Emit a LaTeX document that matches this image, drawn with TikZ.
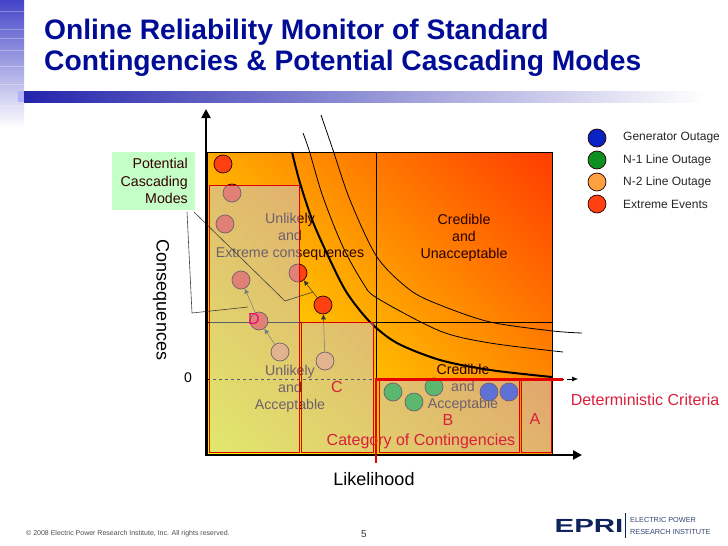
\documentclass[tikz,border=0pt]{standalone}
\usepackage{fontspec}
\setmainfont{Liberation Sans}
\usetikzlibrary{arrows.meta, positioning, calc}

\definecolor{titleblue}{HTML}{000C96}
\definecolor{barblue}{HTML}{2424AC}
\definecolor{columnblue}{HTML}{4444C8}
\definecolor{gentblue}{HTML}{0A22C4}
\definecolor{lineGreen}{HTML}{0E9020}
\definecolor{lineOrange}{HTML}{FFA040}
\definecolor{extremeRed}{HTML}{FF4010}
\definecolor{catRed}{HTML}{D8203C}
\definecolor{veilBlue}{HTML}{C0CBE8}
\definecolor{calloutGreen}{HTML}{C4FFC8}
\definecolor{eprinavy}{HTML}{10245C}
\definecolor{fieldYellow}{HTML}{FFFF00}
\definecolor{fieldOrange}{HTML}{FFA500}
\definecolor{fieldRed}{HTML}{FF4000}

\pgfdeclareverticalshading{fieldshade}{100bp}{color(0bp)=(fieldYellow); color(16bp)=(fieldYellow); color(50bp)=(fieldOrange); color(84bp)=(fieldRed); color(100bp)=(fieldRed)}

\tikzset{
	bubble/.style={circle, draw=black!85!red, line width=0.7pt, minimum size=18pt, inner sep=0pt},
	outage/.style={bubble, fill=extremeRed},
	zonetext/.style={font=\fontsize{14.2}{17}\selectfont, align=center, text=black!85!red, inner sep=0pt},
	legendtext/.style={font=\fontsize{12}{13}\selectfont, text=black!85, anchor=west, inner sep=0pt},
	redtext/.style={font=\fontsize{16}{18}\selectfont, text=catRed, inner sep=0pt},
	veil/.style={fill=veilBlue, fill opacity=0.47, draw=red!85!black, line width=0.7pt},
	step arrow/.style={-{Latex[length=5pt,width=5pt]}, draw=black!80, line width=0.5pt},
	callout/.style={draw=black!75, line width=0.6pt}
}

\begin{document}
\begin{tikzpicture}[x=1pt, y=-1pt]
	\useasboundingbox (0,0) rectangle (728,546);

	% Left column and title bar
	\shade[top color=columnblue, bottom color=white] (0,0) rectangle (24,128);
	\foreach \yy in {11,29,38,50,66,84,106}
		\draw[white, opacity=0.3, line width=0.5pt] (0,\yy) -- (24,\yy);
	\fill[blue!30!white] (18,91) rectangle (24,102);
	\shade[left color=barblue, right color=white] (24,91) rectangle (705,102);

	% Title
	\node[anchor=north west, inner sep=0pt, text=titleblue, align=left,
		font=\fontsize{28.2}{31}\bfseries\selectfont] (title) at (44,19)
		{Online Reliability Monitor of Standard\\Contingencies \& Potential Cascading Modes};

	% Key coordinates of the plot
	\coordinate (O) at (207,455);
	\coordinate (TopRight) at (552,152);
	\coordinate (Zero) at (207,379);

	% Background field
	\path[shading=fieldshade, shading angle=-45] (O) rectangle (TopRight);
	\draw[black, line width=0.7pt] (O) rectangle (TopRight);
	\draw[black, line width=0.6pt] (376,152) -- (376,380);
	\draw[black, line width=0.6pt] (207,322) -- (552,322);

	% Risk curves
	\draw[line width=0.8pt, black] plot[smooth] coordinates {(321,115) (333,150) (350,200) (377,257) (410,290) (440,305) (490,322) (553,331) (582,333)};
	\draw[line width=0.8pt, black] plot[smooth] coordinates {(303,133) (309,150) (323,197) (343,247) (363,283) (377,298) (440,331) (490,343) (563,352)};
	\draw[line width=2pt, black] plot[smooth] coordinates {(292,152) (300,183) (313,222) (330,260) (347,293) (370,322) (397,343) (440,360) (490,370) (552,377)};

	% Zone texts
	\node[zonetext] (unlikelyext) at (290,237) {Unlikely\\and\\Extreme consequences};
	\node[zonetext] (credun) at (464,238) {Credible\\and\\Unacceptable};
	\node[zonetext] (unlikelyacc) at (290,389) {Unlikely\\and\\Acceptable};
	\node[zonetext] (credacc) at (463,388) {Credible\\and\\Acceptable};

	% Outage bubbles
	\node[outage] (e1) at (223,164) {};
	\node[outage] (n1) at (232,193) {};
	\node[outage] (n2) at (225,224) {};
	\node[outage] (n3) at (241,280) {};
	\node[outage] (e2) at (298,273) {};
	\node[outage] (e3) at (323,305) {};
	\node[outage] (e4) at (259,321) {};
	\node[outage, fill=lineOrange] (n4) at (280,352) {};
	\node[outage, fill=lineOrange] (n5) at (325,361) {};
	\node[outage, fill=green!65!black] (g1) at (393,392) {};
	\node[outage, fill=green!65!black] (g2) at (414,402) {};
	\node[outage, fill=green!65!black] (g3) at (434,387) {};
	\node[outage, fill=gentblue] (b1) at (489,392) {};
	\node[outage, fill=gentblue] (b2) at (509,392) {};

	% Escalation arrows
	\draw[step arrow] (n4) -- (e4);
	\draw[step arrow] (e4) -- (n3);
	\draw[step arrow] (n5) -- (e3);
	\draw[step arrow] (e3) -- (e2);

	% Deterministic line
	\draw[dashed, black, line width=0.6pt] (Zero) -- (570,379);
	\draw[-{Latex[length=6pt,width=5pt]}, black, line width=0.6pt] (570,379) -- (578,379);

	% Category boxes
	\draw[veil] (209,185) rectangle (299.5,452);
	\draw[veil] (301.5,322) rectangle (373,452);
	\draw[veil] (379,380) rectangle (519,452);
	\draw[veil] (521,380) rectangle (551,452);

	% Callout
	\node[fill=calloutGreen, minimum width=83pt, minimum height=58pt, inner sep=0pt] (calloutbox) at (153.5,181) {};
	\node[anchor=east, align=right, inner sep=0pt, text=black!80!red, font=\fontsize{14.2}{17.5}\selectfont] (callout) at (188,181)
		{Potential\\Cascading\\Modes};
	\coordinate (c1) at (187,212);
	\coordinate (c2) at (192,313);
	\coordinate (c3) at (248,307);
	\coordinate (c4) at (194,212);
	\coordinate (c5) at (285,301);
	\coordinate (c6) at (313,292);
	\draw[callout] (c1) -- (c2) -- (c3);
	\draw[callout] (c4) -- (c5) -- (c6);

	% Axes
	\draw[-{Triangle[length=9pt,width=9pt]}, line width=2.6pt] (206,456) -- (206,109);
	\draw[-{Triangle[length=9pt,width=9pt]}, line width=2.6pt] (205,455) -- (582,455);

	% Red criteria lines
	\draw[red!90!black, line width=2.6pt] (563,379.5) -- (376,379.5) -- (376,463);

	% Labels
	\node[inner sep=0pt, font=\fontsize{18}{20}\selectfont] (likelihood) at (374,479) {Likelihood};
	\node[inner sep=0pt, font=\fontsize{18}{20}\selectfont, rotate=-90] (consequences) at (161,300) {Consequences};
	\node[inner sep=0pt, font=\fontsize{14}{16}\selectfont] (zero) at (188,378) {0};
	\node[redtext] (labelC) at (337,387) {C};
	\node[redtext] (labelB) at (448,420) {B};
	\node[redtext] (labelA) at (535,419) {A};
	\node[redtext, text=magenta!80!red] (labelD) at (254,319) {D};
	\node[redtext] (category) at (421,441) {Category of Contingencies};
	\node[redtext] (determ) at (645,400) {Deterministic Criteria};

	% Legend
	\node[outage, fill=gentblue] (leg1) at (597,138) {};
	\node[outage, fill=lineGreen] (leg2) at (597,160) {};
	\node[outage, fill=lineOrange] (leg3) at (597,182) {};
	\node[outage] (leg4) at (597,204) {};
	\node[legendtext] (legt1) at (623,138) {Generator Outage};
	\node[legendtext] (legt2) at (623,160) {N-1 Line Outage};
	\node[legendtext] (legt3) at (623,182) {N-2 Line Outage};
	\node[legendtext] (legt4) at (623,204) {Extreme Events};

	% Footer
	\node[anchor=west, inner sep=0pt, text=black!70, font=\fontsize{7}{8}\selectfont] (copyright) at (26,534)
		{© 2008 Electric Power Research Institute, Inc. All rights reserved.};
	\node[inner sep=0pt, text=black!80, font=\fontsize{10}{12}\selectfont] (pagenum) at (364,534) {5};
	\node[inner sep=0pt, text=eprinavy, font=\fontsize{19}{20}\bfseries\selectfont, xscale=1.55] (epri) at (589,526) {EPRI};
	\draw[eprinavy, line width=0.7pt] (625,513) -- (625,538);
	\node[anchor=west, inner sep=0pt, align=left, text=eprinavy!85, font=\fontsize{7.3}{11.5}\selectfont] (epriname) at (630,526)
		{ELECTRIC POWER\\RESEARCH INSTITUTE};
\end{tikzpicture}
\end{document}
